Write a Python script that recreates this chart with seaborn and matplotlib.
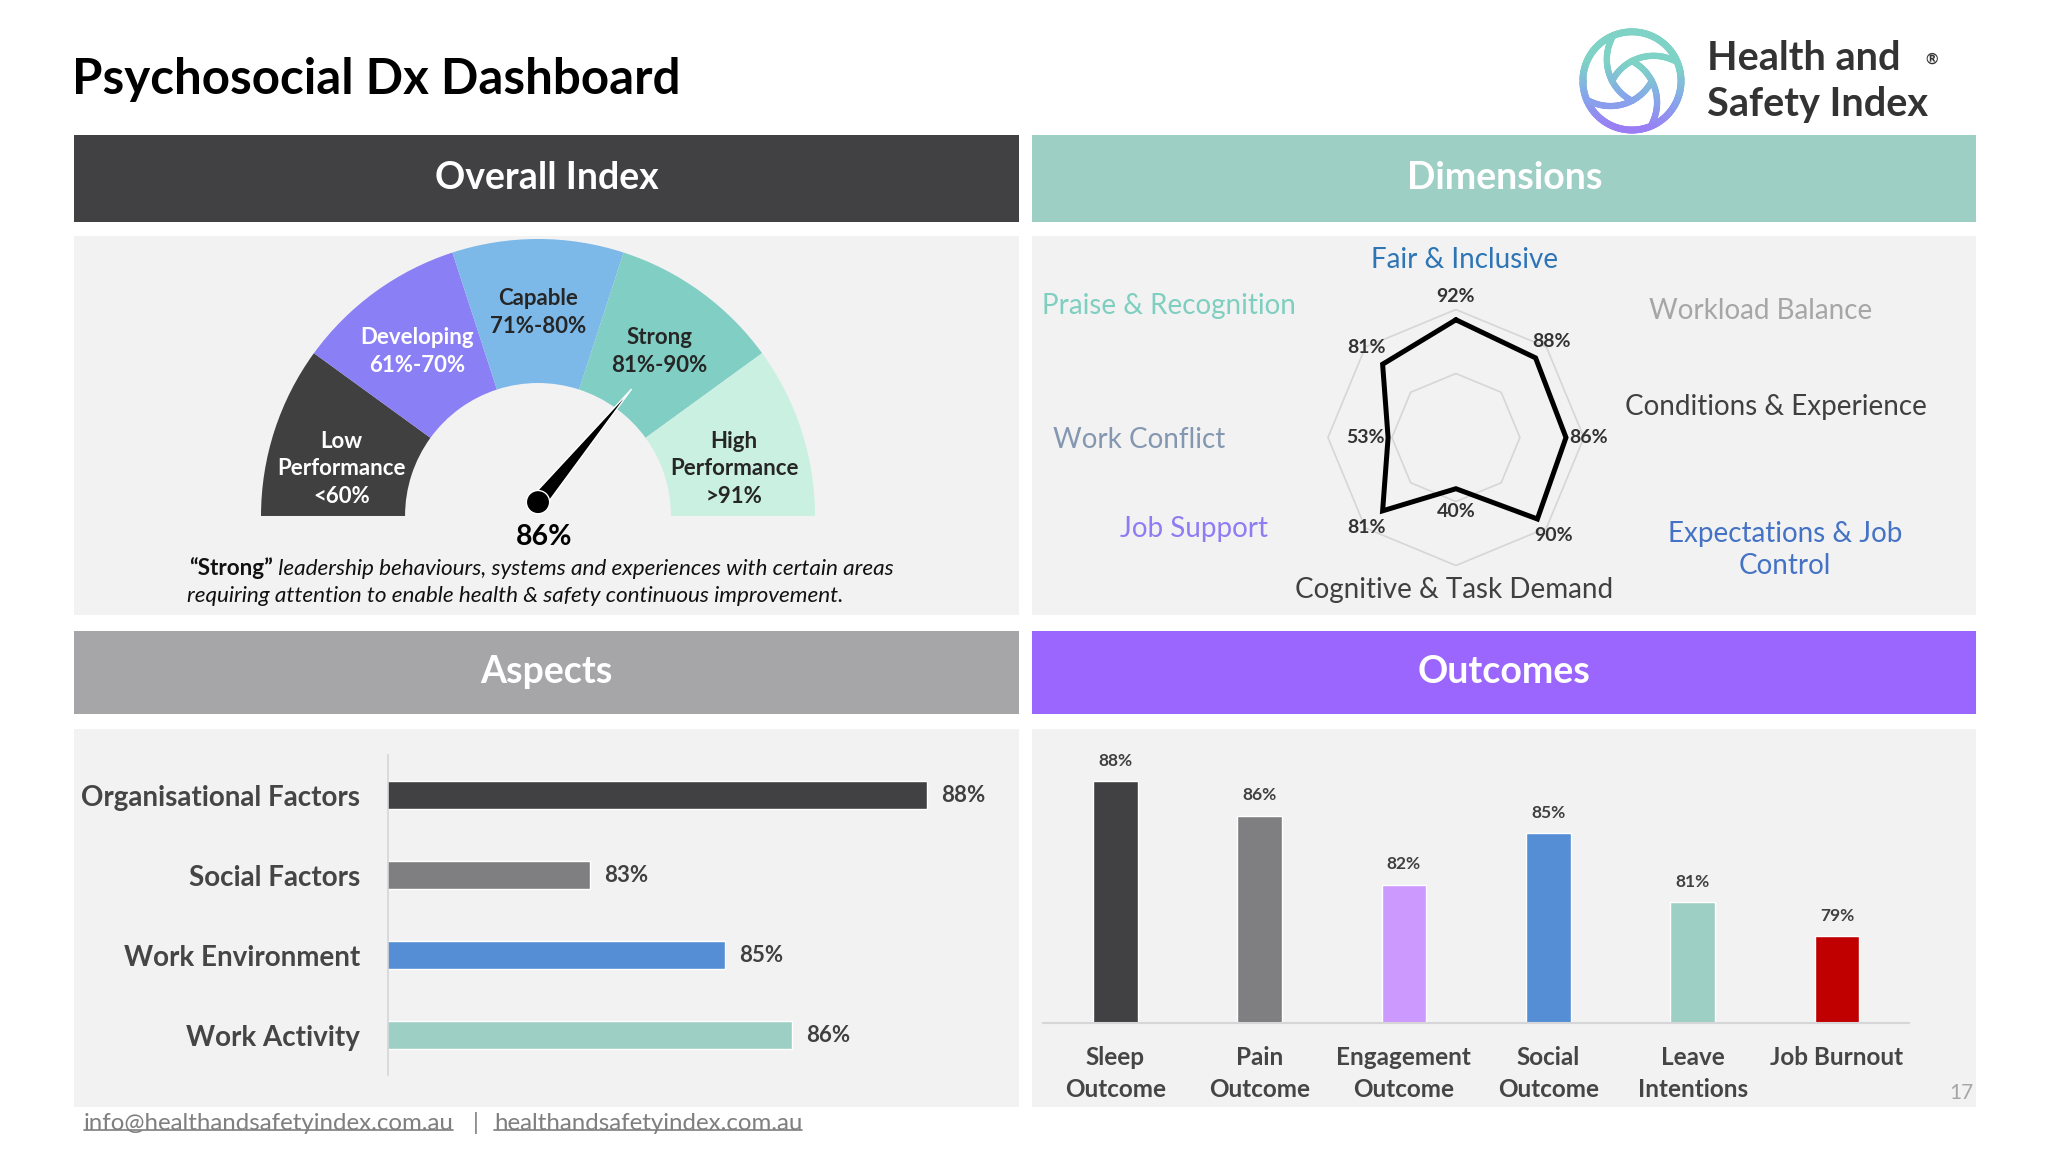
import numpy as np
import pandas as pd
import seaborn as sns
import matplotlib.pyplot as plt
from matplotlib.patches import Rectangle, Wedge, Polygon, Circle
from matplotlib.lines import Line2D
from matplotlib.collections import LineCollection
from matplotlib.colors import LinearSegmentedColormap, Normalize


sns.set_theme(style="white")
plt.rcParams['font.family'] = ['Lato', 'DejaVu Sans']

# ---- data ----
band_labels = ['Low\nPerformance\n<60%', 'Developing\n61%-70%', 'Capable\n71%-80%',
               'Strong\n81%-90%', 'High\nPerformance\n>91%']
band_edges = [50, 60, 70, 80, 90, 100]
band_colors = ['#404040', '#8b7ff5', '#7cb9e9', '#80cec4', '#caf0e2']
band_text_colors = ['white', 'white', '#262626', '#262626', '#262626']
overall_score = 86
overall_rating = 'Strong'

dimensions = ['Fair & Inclusive', 'Workload Balance', 'Conditions & Experience',
              'Expectations & Job\nControl', 'Cognitive & Task Demand', 'Job Support',
              'Work Conflict', 'Praise & Recognition']
dimension_scores = [92, 88, 86, 90, 40, 81, 53, 81]
dimension_colors = ['#2e75b6', '#a6a6a6', '#404040', '#4472c4', '#404040',
                    '#8e7cf3', '#8497b0', '#7fcfc0']

aspects = ['Organisational Factors', 'Social Factors', 'Work Environment', 'Work Activity']
aspect_scores = [88, 83, 85, 86]
aspect_colors = ['#414042', '#7f7e81', '#558ed5', '#9dcfc4']

outcomes = ['Sleep\nOutcome', 'Pain\nOutcome', 'Engagement\nOutcome', 'Social\nOutcome',
            'Leave\nIntentions', 'Job Burnout']
outcome_scores = [88, 86, 82, 85, 81, 79]
outcome_colors = ['#414042', '#7f7e81', '#cc99ff', '#558ed5', '#9dcfc4', '#c00000']

# ---- figure + panels ----
fig = plt.figure(figsize=(20.48, 11.52), dpi=100, facecolor='white')

L0, L1 = 0.0363, 0.4975
R0, R1 = 0.504, 0.965
panel_bg = '#f2f2f3'


def box(x0, y0, x1, y1, color):
    fig.add_artist(Rectangle((x0, y0), x1 - x0, y1 - y0, transform=fig.transFigure,
                             facecolor=color, edgecolor='none', zorder=-5))


box(L0, 0.8073, L1, 0.8832, '#414042')
box(R0, 0.8073, R1, 0.8832, '#9dcfc4')
box(L0, 0.4661, L1, 0.7951, panel_bg)
box(R0, 0.4661, R1, 0.7951, panel_bg)
box(L0, 0.3802, L1, 0.4523, '#a6a5a8')
box(R0, 0.3802, R1, 0.4523, '#9a66fe')
box(L0, 0.0391, L1, 0.3672, panel_bg)
box(R0, 0.0391, R1, 0.3672, panel_bg)

hdr = dict(color='white', fontsize=27, fontweight='bold', ha='center', va='center')
fig.text((L0 + L1) / 2, 0.8453, 'Overall Index', **hdr)
fig.text((R0 + R1) / 2, 0.8453, 'Dimensions', **hdr)
fig.text((L0 + L1) / 2, 0.4163, 'Aspects', **hdr)
fig.text((R0 + R1) / 2, 0.4163, 'Outcomes', **hdr)

fig.text(0.0352, 0.931, 'Psychosocial Dx Dashboard', fontsize=35.5, fontweight='bold',
         color='black', va='center')

# ---- logo ----
ax_l = fig.add_axes([0.770, 0.882, 0.0537, 0.0955])
ax_l.set_xlim(-1.12, 1.12)
ax_l.set_ylim(-1.12, 1.12)
ax_l.set_aspect('equal')
ax_l.axis('off')
logo_cmap = LinearSegmentedColormap.from_list('logo', ['#9b7cf5', '#86a8ea', '#7ed3c6', '#7ed3c6'])


def grad_line(xs, ys, lw):
    pts = np.column_stack([xs, ys]).reshape(-1, 1, 2)
    segs = np.concatenate([pts[:-1], pts[1:]], axis=1)
    lc = LineCollection(segs, cmap=logo_cmap, norm=Normalize(-1, 1), linewidths=lw,
                        capstyle='round')
    lc.set_array((ys[:-1] + ys[1:]) / 2)
    ax_l.add_collection(lc)


t = np.linspace(0, 2 * np.pi, 240)
grad_line(np.cos(t), np.sin(t), 5)
for k in range(4):
    phi = np.pi / 4 + k * np.pi / 2
    cx, cy = 0.62 * np.cos(phi), 0.62 * np.sin(phi)
    tt = phi + np.radians(np.linspace(108, 198, 60))
    grad_line(cx + 0.95 * np.cos(tt), cy + 0.95 * np.sin(tt), 4.5)

fig.text(0.8335, 0.949, 'Health and', fontsize=28.5, fontweight='bold', color='#333333', va='center')
fig.text(0.8335, 0.9093, 'Safety Index', fontsize=28.5, fontweight='bold', color='#333333', va='center')
fig.text(0.9432, 0.948, '®', fontsize=11, fontweight='bold', color='#333333', ha='center', va='center')

# ---- gauge ----
ax_g = fig.add_axes([0.0674, 0.4653, 0.3906, 0.3472])
ax_g.set_xlim(-1.444, 1.444)
ax_g.set_ylim(-0.361, 1.083)
ax_g.axis('off')


def to_angle(v):
    return 180 * (1 - (v - band_edges[0]) / (band_edges[-1] - band_edges[0]))


for i, lab in enumerate(band_labels):
    a1, a0 = to_angle(band_edges[i]), to_angle(band_edges[i + 1])
    ax_g.add_patch(Wedge((0, 0), 1.0, a0, a1, width=0.52, facecolor=band_colors[i],
                         edgecolor='none'))
    mid = np.radians((a0 + a1) / 2)
    dy = -0.06 if lab.count('\n') == 2 else -0.01
    ax_g.text(0.745 * np.cos(mid), 0.745 * np.sin(mid) + dy, lab, ha='center', va='center',
              fontsize=16, fontweight='bold', color=band_text_colors[i], linespacing=1.4)

ang = np.radians(to_angle(overall_score))
base = np.array([0.0, 0.05])
tip = base + 0.53 * np.array([np.cos(ang), np.sin(ang)])
perp = 0.03 * np.array([-np.sin(ang), np.cos(ang)])
ax_g.add_patch(Polygon([base + perp, tip, base - perp], closed=True, facecolor='black'))
ax_g.add_patch(Circle(base, 0.042, facecolor='black'))

fig.text(0.2659, 0.5339, f'{overall_score}%', fontsize=20.5, fontweight='bold', color='black',
         ha='center', va='center')
t1 = fig.text(0.0923, 0.507, f'“{overall_rating}”', fontsize=16.2, fontweight='bold',
              color='#111111', va='center')
ax_g.annotate(' leadership behaviours, systems and experiences with certain areas',
              xy=(1, 0), xycoords=t1, va='bottom', ha='left', fontsize=16.2,
              style='italic', color='#111111', annotation_clip=False)
fig.text(0.0912, 0.483, 'requiring attention to enable health & safety continuous improvement.',
         fontsize=16.2, style='italic', color='#111111', va='center')

# ---- radar ----
ax_r = fig.add_axes([0.6484, 0.5091, 0.125, 0.2222], projection='polar')
ax_r.set_theta_offset(np.pi / 2)
ax_r.set_theta_direction(-1)
angles = np.linspace(0, 2 * np.pi, len(dimensions), endpoint=False)
closed = np.append(angles, angles[0])
for ring in [50, 100]:
    ax_r.plot(closed, [ring] * len(closed), color='#d6d6d8', lw=1.2, clip_on=False)
ax_r.plot(closed, dimension_scores + dimension_scores[:1], color='black', lw=3.6,
          solid_joinstyle='miter', clip_on=False)
for a, v in zip(angles, dimension_scores):
    ax_r.text(a, v + 18, f'{v}%', ha='center', va='center', fontsize=14,
              fontweight='bold', color='#333333')
ax_r.set_ylim(0, 100)
ax_r.set_xticks([])
ax_r.set_yticks([])
ax_r.grid(False)
ax_r.spines['polar'].set_visible(False)
ax_r.set_facecolor('none')

dim_label_pos = [(0.7149, 0.7743), (0.8596, 0.7302), (0.8672, 0.6463), (0.8717, 0.5226),
                 (0.7098, 0.4877), (0.5829, 0.5408), (0.556, 0.618), (0.5708, 0.7347)]
for name, col, (px, py) in zip(dimensions, dimension_colors, dim_label_pos):
    fig.text(px, py, name, color=col, fontsize=20, ha='center', va='center', linespacing=1.3)

# ---- aspects ----
ax_a = fig.add_axes([0.1895, 0.0668, 0.296, 0.2778])
df_a = pd.DataFrame({'aspect': aspects, 'score': aspect_scores})
sns.barplot(data=df_a, x='score', y='aspect', hue='aspect', palette=aspect_colors,
            saturation=1, legend=False, width=0.34, orient='h', ax=ax_a)
ax_a.set_xlim(80, 89)
ax_a.set_ylim(3.5, -0.5)
ax_a.set_facecolor('none')
for s in ['top', 'right', 'bottom']:
    ax_a.spines[s].set_visible(False)
ax_a.spines['left'].set_color('#d6d6d8')
ax_a.spines['left'].set_linewidth(1.2)
ax_a.set_xticks([])
ax_a.set_xlabel('')
ax_a.set_ylabel('')
ax_a.tick_params(axis='y', length=0, pad=20, labelsize=20, labelcolor='#454545')
for lab in ax_a.get_yticklabels():
    lab.set_fontweight('bold')
for c in ax_a.containers:
    ax_a.bar_label(c, fmt='{:.0f}%', padding=10, fontsize=16, fontweight='bold',
                   color='#404040')

# ---- outcomes ----
ax_o = fig.add_axes([0.5093, 0.1123, 0.4229, 0.2393])
df_o = pd.DataFrame({'outcome': outcomes, 'score': outcome_scores})
sns.barplot(data=df_o, x='outcome', y='score', hue='outcome', palette=outcome_colors,
            saturation=1, legend=False, width=0.31, ax=ax_o)
ax_o.set_ylim(74, 90)
ax_o.set_xlim(-0.5, 5.5)
ax_o.set_facecolor('none')
for s in ['top', 'right', 'left']:
    ax_o.spines[s].set_visible(False)
ax_o.spines['bottom'].set_color('#d6d6d8')
ax_o.spines['bottom'].set_linewidth(1.5)
ax_o.set_yticks([])
ax_o.set_xlabel('')
ax_o.set_ylabel('')
ax_o.tick_params(axis='x', length=0, pad=17, labelsize=17.5, labelcolor='#454545')
for lab in ax_o.get_xticklabels():
    lab.set_fontweight('bold')
    lab.set_linespacing(1.45)
for c in ax_o.containers:
    ax_o.bar_label(c, fmt='{:.0f}%', padding=9, fontsize=12.5, fontweight='bold',
                   color='#404040')

# ---- footer ----
foot = dict(fontsize=17.3, color='#7f7f7f', va='center')
f1 = fig.text(0.0408, 0.025, 'info@healthandsafetyindex.com.au', **foot)
fig.text(0.2325, 0.025, '|', ha='center', **foot)
f2 = fig.text(0.2411, 0.025, 'healthandsafetyindex.com.au', **foot)
fig.text(0.9578, 0.0512, '17', fontsize=15, color='#a6a6a6', ha='center', va='center')

fig.canvas.draw()
rend = fig.canvas.get_renderer()
for ft in [f1, f2]:
    bb = ft.get_window_extent(rend).transformed(fig.transFigure.inverted())
    yline = bb.y0 + 0.18 * bb.height
    fig.add_artist(Line2D([bb.x0, bb.x1], [yline, yline], transform=fig.transFigure,
                          color='#7f7f7f', lw=1.2))

fig.savefig('out.png', dpi=100, facecolor='white')
